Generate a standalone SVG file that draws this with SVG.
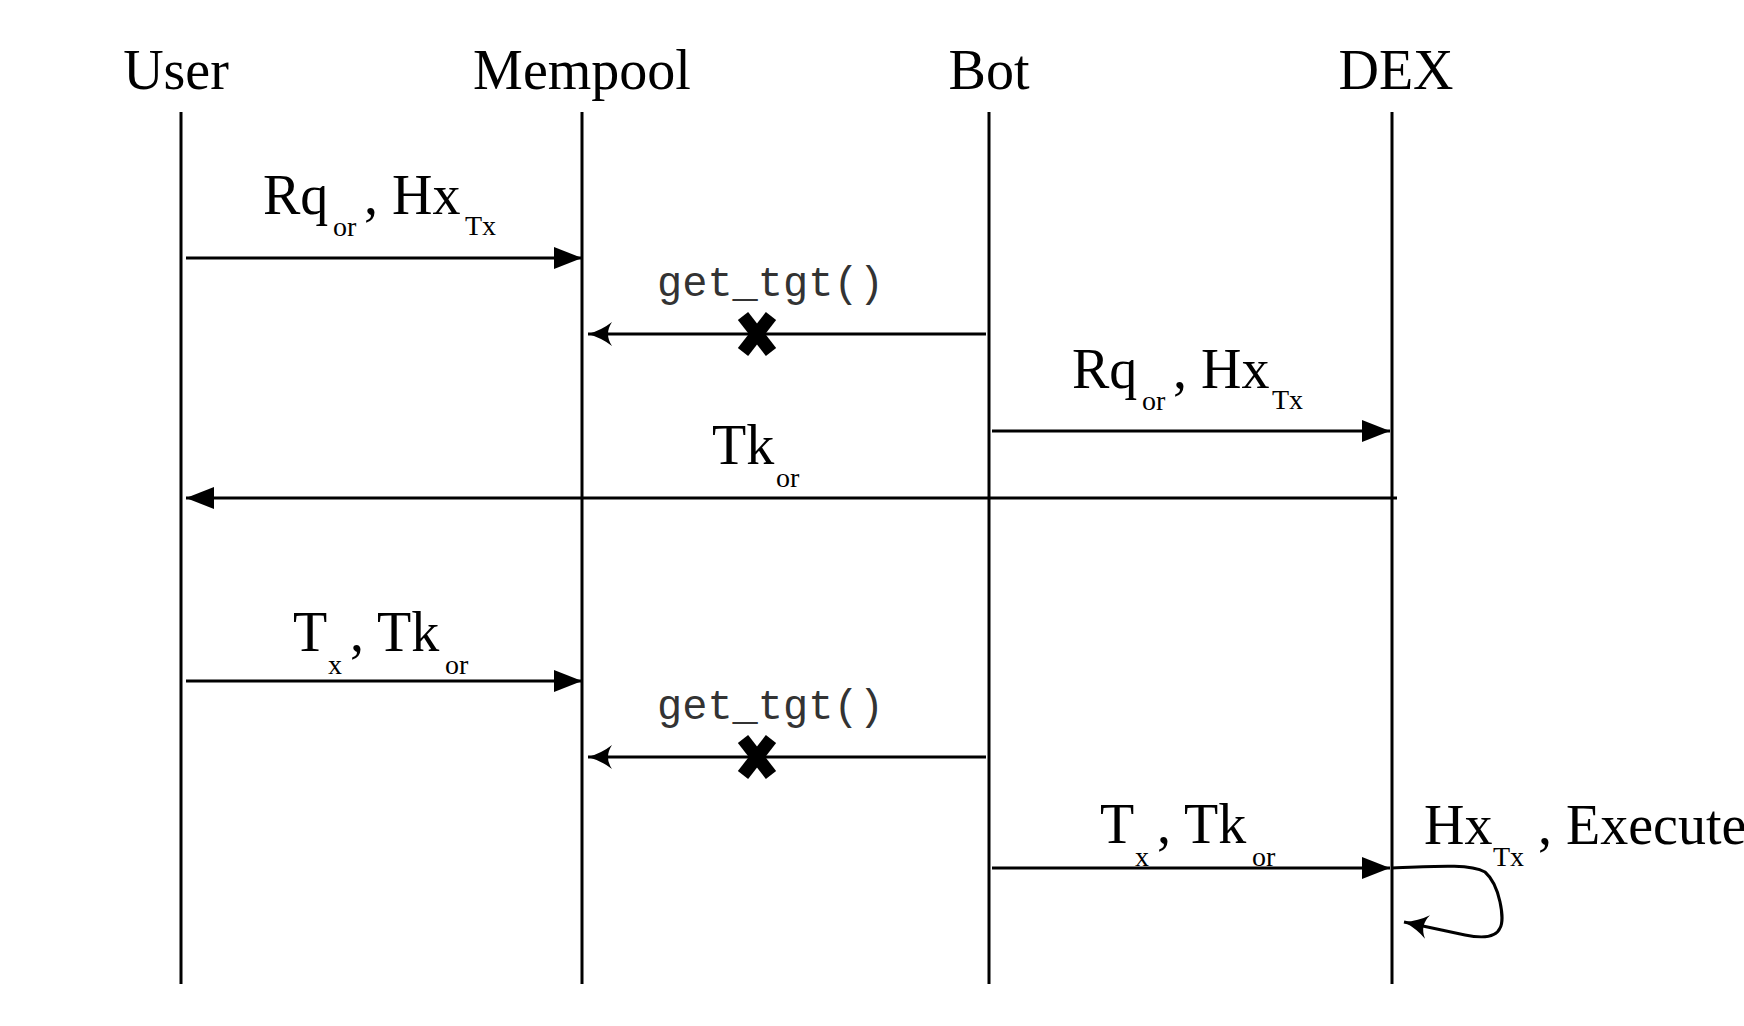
<svg xmlns="http://www.w3.org/2000/svg" width="1744" height="1026" viewBox="0 0 1744 1026">
<defs>
<marker id="fill" markerWidth="30" markerHeight="22" refX="28" refY="11" orient="auto" markerUnits="userSpaceOnUse"><path d="M0,0 L28,11 L0,22 Z" fill="#000"/></marker>
<marker id="open" markerWidth="32" markerHeight="28" refX="28" refY="14" orient="auto" markerUnits="userSpaceOnUse"><path d="M4,2 Q14,10 28,14 Q14,18 4,26 Q12,14 4,2 Z" fill="#000"/></marker>
</defs>
<style>
.t{font-family:"Liberation Serif",serif;font-size:56px;fill:#000}
.s{font-size:28px}
.m{font-family:"Liberation Mono",monospace;font-size:42px;fill:#333}
.l{stroke:#000;stroke-width:3;fill:none}
.x{stroke:#000;stroke-width:13;stroke-linecap:butt}
</style>
<g id="user"><text class="t" x="176" y="89" text-anchor="middle">User</text><line class="l" x1="181" y1="112" x2="181" y2="984"/></g>
<g id="mempool"><text class="t" x="582" y="89" text-anchor="middle">Mempool</text><line class="l" x1="582" y1="112" x2="582" y2="984"/></g>
<g id="bot"><text class="t" x="989" y="89" text-anchor="middle">Bot</text><line class="l" x1="989" y1="112" x2="989" y2="984"/></g>
<g id="dex"><text class="t" x="1396" y="89" text-anchor="middle">DEX</text><line class="l" x1="1392" y1="112" x2="1392" y2="984"/></g>
<g id="connectors">
<line class="l" x1="186" y1="258" x2="582" y2="258" marker-end="url(#fill)"/>
<line class="l" x1="986" y1="334" x2="588" y2="334" marker-end="url(#open)"/>
<line class="x" x1="743" y1="316" x2="771" y2="352"/><line class="x" x1="771" y1="316" x2="743" y2="352"/>
<line class="l" x1="992" y1="431" x2="1390" y2="431" marker-end="url(#fill)"/>
<line class="l" x1="1397" y1="498" x2="186" y2="498" marker-end="url(#fill)"/>
<line class="l" x1="186" y1="681" x2="582" y2="681" marker-end="url(#fill)"/>
<line class="l" x1="986" y1="757" x2="588" y2="757" marker-end="url(#open)"/>
<line class="x" x1="743" y1="739" x2="771" y2="775"/><line class="x" x1="771" y1="739" x2="743" y2="775"/>
<line class="l" x1="992" y1="868" x2="1390" y2="868" marker-end="url(#fill)"/>
<path class="l" d="M1392,868 C1440,866 1470,864 1485,872 C1500,885 1505,920 1500,928 C1496,938 1480,938 1465,935 L1404,922" marker-end="url(#open)"/>
</g>
<g id="labels">
<text class="t" x="263" y="214">Rq<tspan class="s" x="333" y="236">or</tspan><tspan x="364" y="214">, Hx</tspan><tspan class="s" x="465" y="235">Tx</tspan></text>
<text class="m" x="657" y="296">get_tgt()</text>
<text class="t" x="1072" y="388">Rq<tspan class="s" x="1142" y="410">or</tspan><tspan x="1173" y="388">, Hx</tspan><tspan class="s" x="1272" y="409">Tx</tspan></text>
<text class="t" x="712" y="464">Tk<tspan class="s" x="776" y="487">or</tspan></text>
<text class="t" x="293" y="651">T<tspan class="s" x="328" y="674">x</tspan><tspan x="350" y="651">, Tk</tspan><tspan class="s" x="445" y="674">or</tspan></text>
<text class="m" x="657" y="719">get_tgt()</text>
<text class="t" x="1100" y="843">T<tspan class="s" x="1135" y="866">x</tspan><tspan x="1157" y="843">, Tk</tspan><tspan class="s" x="1252" y="866">or</tspan></text>
<text class="t" x="1424" y="844">Hx<tspan class="s" x="1493" y="866">Tx</tspan><tspan x="1538" y="844">, Execute</tspan></text>
</g>
</svg>
